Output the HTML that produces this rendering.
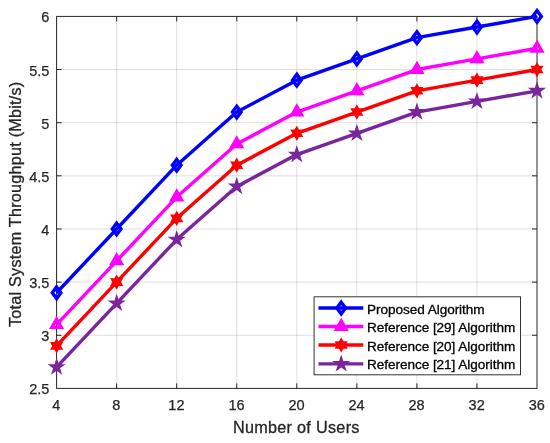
<!DOCTYPE html>
<html><head><meta charset="utf-8"><title>Total System Throughput vs Number of Users</title>
<style>html,body{margin:0;padding:0;background:#fff}svg{display:block}text{font-family:"Liberation Sans",sans-serif}.tk{font-size:14.5px;fill:#262626;stroke:#262626;stroke-width:.25px}.lb{font-size:16.2px;fill:#262626;stroke:#262626;stroke-width:.3px}.lg{font-size:13.6px;fill:#000;stroke:#000;stroke-width:.3px;letter-spacing:-.06px}</style></head><body>
<svg width="550" height="443" viewBox="0 0 550 443">
<rect width="550" height="443" fill="#fff"/>
<path d="M116.65 16.4 V388.4 M176.7 16.4 V388.4 M236.75 16.4 V388.4 M296.8 16.4 V388.4 M356.85 16.4 V388.4 M416.9 16.4 V388.4 M476.95 16.4 V388.4" stroke="#262626" stroke-opacity="0.15" stroke-width="1" fill="none"/>
<path d="M56.6 335.26 H537 M56.6 282.11 H537 M56.6 228.97 H537 M56.6 175.83 H537 M56.6 122.69 H537 M56.6 69.54 H537" stroke="#262626" stroke-opacity="0.15" stroke-width="1" fill="none"/>
<rect x="56.6" y="16.4" width="480.4" height="372" fill="none" stroke="#262626" stroke-width="1"/>
<path d="M116.65 16.4 v5 M116.65 388.4 v-5 M176.7 16.4 v5 M176.7 388.4 v-5 M236.75 16.4 v5 M236.75 388.4 v-5 M296.8 16.4 v5 M296.8 388.4 v-5 M356.85 16.4 v5 M356.85 388.4 v-5 M416.9 16.4 v5 M416.9 388.4 v-5 M476.95 16.4 v5 M476.95 388.4 v-5 M56.6 335.26 h5 M537 335.26 h-5 M56.6 282.11 h5 M537 282.11 h-5 M56.6 228.97 h5 M537 228.97 h-5 M56.6 175.83 h5 M537 175.83 h-5 M56.6 122.69 h5 M537 122.69 h-5 M56.6 69.54 h5 M537 69.54 h-5" stroke="#262626" stroke-width="1" fill="none"/>
<polyline points="56.6,292.74 116.65,228.97 176.7,165.2 236.75,112.06 296.8,80.17 356.85,58.91 416.9,37.66 476.95,27.03 537,16.4" fill="none" stroke="#0000ff" stroke-width="3.4" stroke-linejoin="round"/>
<path d="M56.6 286.94 L60.9 292.74 L56.6 298.54 L52.3 292.74 Z" fill="none" stroke="#0000ff" stroke-width="3.4" stroke-linejoin="miter" stroke-miterlimit="10"/>
<path d="M116.65 223.17 L120.95 228.97 L116.65 234.77 L112.35 228.97 Z" fill="none" stroke="#0000ff" stroke-width="3.4" stroke-linejoin="miter" stroke-miterlimit="10"/>
<path d="M176.7 159.4 L181 165.2 L176.7 171 L172.4 165.2 Z" fill="none" stroke="#0000ff" stroke-width="3.4" stroke-linejoin="miter" stroke-miterlimit="10"/>
<path d="M236.75 106.26 L241.05 112.06 L236.75 117.86 L232.45 112.06 Z" fill="none" stroke="#0000ff" stroke-width="3.4" stroke-linejoin="miter" stroke-miterlimit="10"/>
<path d="M296.8 74.37 L301.1 80.17 L296.8 85.97 L292.5 80.17 Z" fill="none" stroke="#0000ff" stroke-width="3.4" stroke-linejoin="miter" stroke-miterlimit="10"/>
<path d="M356.85 53.11 L361.15 58.91 L356.85 64.71 L352.55 58.91 Z" fill="none" stroke="#0000ff" stroke-width="3.4" stroke-linejoin="miter" stroke-miterlimit="10"/>
<path d="M416.9 31.86 L421.2 37.66 L416.9 43.46 L412.6 37.66 Z" fill="none" stroke="#0000ff" stroke-width="3.4" stroke-linejoin="miter" stroke-miterlimit="10"/>
<path d="M476.95 21.23 L481.25 27.03 L476.95 32.83 L472.65 27.03 Z" fill="none" stroke="#0000ff" stroke-width="3.4" stroke-linejoin="miter" stroke-miterlimit="10"/>
<path d="M537 10.6 L541.3 16.4 L537 22.2 L532.7 16.4 Z" fill="none" stroke="#0000ff" stroke-width="3.4" stroke-linejoin="miter" stroke-miterlimit="10"/>
<polyline points="56.6,324.63 116.65,260.86 176.7,197.09 236.75,143.94 296.8,112.06 356.85,90.8 416.9,69.54 476.95,58.91 537,48.29" fill="none" stroke="#ff00ff" stroke-width="3.4" stroke-linejoin="round"/>
<path d="M56.6 319.23 L61.28 327.33 L51.92 327.33 Z" fill="none" stroke="#ff00ff" stroke-width="3.4" stroke-linejoin="miter" stroke-miterlimit="10"/>
<path d="M116.65 255.46 L121.33 263.56 L111.97 263.56 Z" fill="none" stroke="#ff00ff" stroke-width="3.4" stroke-linejoin="miter" stroke-miterlimit="10"/>
<path d="M176.7 191.69 L181.38 199.79 L172.02 199.79 Z" fill="none" stroke="#ff00ff" stroke-width="3.4" stroke-linejoin="miter" stroke-miterlimit="10"/>
<path d="M236.75 138.54 L241.43 146.64 L232.07 146.64 Z" fill="none" stroke="#ff00ff" stroke-width="3.4" stroke-linejoin="miter" stroke-miterlimit="10"/>
<path d="M296.8 106.66 L301.48 114.76 L292.12 114.76 Z" fill="none" stroke="#ff00ff" stroke-width="3.4" stroke-linejoin="miter" stroke-miterlimit="10"/>
<path d="M356.85 85.4 L361.53 93.5 L352.17 93.5 Z" fill="none" stroke="#ff00ff" stroke-width="3.4" stroke-linejoin="miter" stroke-miterlimit="10"/>
<path d="M416.9 64.14 L421.58 72.24 L412.22 72.24 Z" fill="none" stroke="#ff00ff" stroke-width="3.4" stroke-linejoin="miter" stroke-miterlimit="10"/>
<path d="M476.95 53.51 L481.63 61.61 L472.27 61.61 Z" fill="none" stroke="#ff00ff" stroke-width="3.4" stroke-linejoin="miter" stroke-miterlimit="10"/>
<path d="M537 42.89 L541.68 50.99 L532.32 50.99 Z" fill="none" stroke="#ff00ff" stroke-width="3.4" stroke-linejoin="miter" stroke-miterlimit="10"/>
<polyline points="56.6,345.89 116.65,282.11 176.7,218.34 236.75,165.2 296.8,133.31 356.85,112.06 416.9,90.8 476.95,80.17 537,69.54" fill="none" stroke="#ff0000" stroke-width="3.4" stroke-linejoin="round"/>
<path d="M56.6 338.29 L58.79 342.09 L63.18 342.09 L60.99 345.89 L63.18 349.69 L58.79 349.69 L56.6 353.49 L54.41 349.69 L50.02 349.69 L52.21 345.89 L50.02 342.09 L54.41 342.09 Z" fill="#ff0000"/>
<path d="M116.65 274.51 L118.84 278.31 L123.23 278.31 L121.04 282.11 L123.23 285.91 L118.84 285.91 L116.65 289.71 L114.46 285.91 L110.07 285.91 L112.26 282.11 L110.07 278.31 L114.46 278.31 Z" fill="#ff0000"/>
<path d="M176.7 210.74 L178.89 214.54 L183.28 214.54 L181.09 218.34 L183.28 222.14 L178.89 222.14 L176.7 225.94 L174.51 222.14 L170.12 222.14 L172.31 218.34 L170.12 214.54 L174.51 214.54 Z" fill="#ff0000"/>
<path d="M236.75 157.6 L238.94 161.4 L243.33 161.4 L241.14 165.2 L243.33 169 L238.94 169 L236.75 172.8 L234.56 169 L230.17 169 L232.36 165.2 L230.17 161.4 L234.56 161.4 Z" fill="#ff0000"/>
<path d="M296.8 125.71 L298.99 129.51 L303.38 129.51 L301.19 133.31 L303.38 137.11 L298.99 137.11 L296.8 140.91 L294.61 137.11 L290.22 137.11 L292.41 133.31 L290.22 129.51 L294.61 129.51 Z" fill="#ff0000"/>
<path d="M356.85 104.46 L359.04 108.26 L363.43 108.26 L361.24 112.06 L363.43 115.86 L359.04 115.86 L356.85 119.66 L354.66 115.86 L350.27 115.86 L352.46 112.06 L350.27 108.26 L354.66 108.26 Z" fill="#ff0000"/>
<path d="M416.9 83.2 L419.09 87 L423.48 87 L421.29 90.8 L423.48 94.6 L419.09 94.6 L416.9 98.4 L414.71 94.6 L410.32 94.6 L412.51 90.8 L410.32 87 L414.71 87 Z" fill="#ff0000"/>
<path d="M476.95 72.57 L479.14 76.37 L483.53 76.37 L481.34 80.17 L483.53 83.97 L479.14 83.97 L476.95 87.77 L474.76 83.97 L470.37 83.97 L472.56 80.17 L470.37 76.37 L474.76 76.37 Z" fill="#ff0000"/>
<path d="M537 61.94 L539.19 65.74 L543.58 65.74 L541.39 69.54 L543.58 73.34 L539.19 73.34 L537 77.14 L534.81 73.34 L530.42 73.34 L532.61 69.54 L530.42 65.74 L534.81 65.74 Z" fill="#ff0000"/>
<polyline points="56.6,367.14 116.65,303.37 176.7,239.6 236.75,186.46 296.8,154.57 356.85,133.31 416.9,112.06 476.95,101.43 537,90.8" fill="none" stroke="#7a259e" stroke-width="3.4" stroke-linejoin="round"/>
<path d="M56.6 357.64 L58.73 364.21 L65.64 364.21 L60.05 368.26 L62.18 374.83 L56.6 370.77 L51.02 374.83 L53.15 368.26 L47.56 364.21 L54.47 364.21 Z" fill="#7a259e"/>
<path d="M116.65 293.87 L118.78 300.44 L125.69 300.44 L120.1 304.49 L122.23 311.06 L116.65 307 L111.07 311.06 L113.2 304.49 L107.61 300.44 L114.52 300.44 Z" fill="#7a259e"/>
<path d="M176.7 230.1 L178.83 236.66 L185.74 236.66 L180.15 240.72 L182.28 247.29 L176.7 243.23 L171.12 247.29 L173.25 240.72 L167.66 236.66 L174.57 236.66 Z" fill="#7a259e"/>
<path d="M236.75 176.96 L238.88 183.52 L245.79 183.52 L240.2 187.58 L242.33 194.14 L236.75 190.09 L231.17 194.14 L233.3 187.58 L227.71 183.52 L234.62 183.52 Z" fill="#7a259e"/>
<path d="M296.8 145.07 L298.93 151.64 L305.84 151.64 L300.25 155.69 L302.38 162.26 L296.8 158.2 L291.22 162.26 L293.35 155.69 L287.76 151.64 L294.67 151.64 Z" fill="#7a259e"/>
<path d="M356.85 123.81 L358.98 130.38 L365.89 130.38 L360.3 134.44 L362.43 141 L356.85 136.94 L351.27 141 L353.4 134.44 L347.81 130.38 L354.72 130.38 Z" fill="#7a259e"/>
<path d="M416.9 102.56 L419.03 109.12 L425.94 109.12 L420.35 113.18 L422.48 119.74 L416.9 115.69 L411.32 119.74 L413.45 113.18 L407.86 109.12 L414.77 109.12 Z" fill="#7a259e"/>
<path d="M476.95 91.93 L479.08 98.49 L485.99 98.49 L480.4 102.55 L482.53 109.11 L476.95 105.06 L471.37 109.11 L473.5 102.55 L467.91 98.49 L474.82 98.49 Z" fill="#7a259e"/>
<path d="M537 81.3 L539.13 87.86 L546.04 87.86 L540.45 91.92 L542.58 98.49 L537 94.43 L531.42 98.49 L533.55 91.92 L527.96 87.86 L534.87 87.86 Z" fill="#7a259e"/>
<text class="tk" x="56.3" y="410.0" text-anchor="middle">4</text>
<text class="tk" x="116.35" y="410.0" text-anchor="middle">8</text>
<text class="tk" x="176.4" y="410.0" text-anchor="middle">12</text>
<text class="tk" x="236.45" y="410.0" text-anchor="middle">16</text>
<text class="tk" x="296.5" y="410.0" text-anchor="middle">20</text>
<text class="tk" x="356.55" y="410.0" text-anchor="middle">24</text>
<text class="tk" x="416.6" y="410.0" text-anchor="middle">28</text>
<text class="tk" x="476.65" y="410.0" text-anchor="middle">32</text>
<text class="tk" x="536.7" y="410.0" text-anchor="middle">36</text>
<text class="tk" x="49.4" y="394.4" text-anchor="end">2.5</text>
<text class="tk" x="49.4" y="341.26" text-anchor="end">3</text>
<text class="tk" x="49.4" y="288.11" text-anchor="end">3.5</text>
<text class="tk" x="49.4" y="234.97" text-anchor="end">4</text>
<text class="tk" x="49.4" y="181.83" text-anchor="end">4.5</text>
<text class="tk" x="49.4" y="128.69" text-anchor="end">5</text>
<text class="tk" x="49.4" y="75.54" text-anchor="end">5.5</text>
<text class="tk" x="49.4" y="22.4" text-anchor="end">6</text>
<text class="lb" x="232.9" y="433.4" style="letter-spacing:0.3px">Number of Users</text>
<text class="lb" transform="translate(20.6 327) rotate(-90)" style="letter-spacing:0.23px">Total System Throughput (Mbit/s)</text>
<rect x="314.1" y="296.8" width="206.4" height="78" fill="#fff" stroke="#333" stroke-width="1"/>
<path d="M318.5 308 H363.3" stroke="#0000ff" stroke-width="3.4" fill="none"/>
<path d="M341.2 302.2 L345.5 308 L341.2 313.8 L336.9 308 Z" fill="none" stroke="#0000ff" stroke-width="3.4" stroke-linejoin="miter" stroke-miterlimit="10"/>
<text class="lg" x="367" y="313.5">Proposed Algorithm</text>
<path d="M318.5 326.5 H363.3" stroke="#ff00ff" stroke-width="3.4" fill="none"/>
<path d="M341.2 321.1 L345.88 329.2 L336.52 329.2 Z" fill="none" stroke="#ff00ff" stroke-width="3.4" stroke-linejoin="miter" stroke-miterlimit="10"/>
<text class="lg" x="367" y="332">Reference [29] Algorithm</text>
<path d="M318.5 345 H363.3" stroke="#ff0000" stroke-width="3.4" fill="none"/>
<path d="M341.2 337.4 L343.39 341.2 L347.78 341.2 L345.59 345 L347.78 348.8 L343.39 348.8 L341.2 352.6 L339.01 348.8 L334.62 348.8 L336.81 345 L334.62 341.2 L339.01 341.2 Z" fill="#ff0000"/>
<text class="lg" x="367" y="350.5">Reference [20] Algorithm</text>
<path d="M318.5 363.9 H363.3" stroke="#7a259e" stroke-width="3.4" fill="none"/>
<path d="M341.2 354.4 L343.33 360.96 L350.24 360.96 L344.65 365.02 L346.78 371.59 L341.2 367.53 L335.62 371.59 L337.75 365.02 L332.16 360.96 L339.07 360.96 Z" fill="#7a259e"/>
<text class="lg" x="367" y="369.4">Reference [21] Algorithm</text>
</svg></body></html>
